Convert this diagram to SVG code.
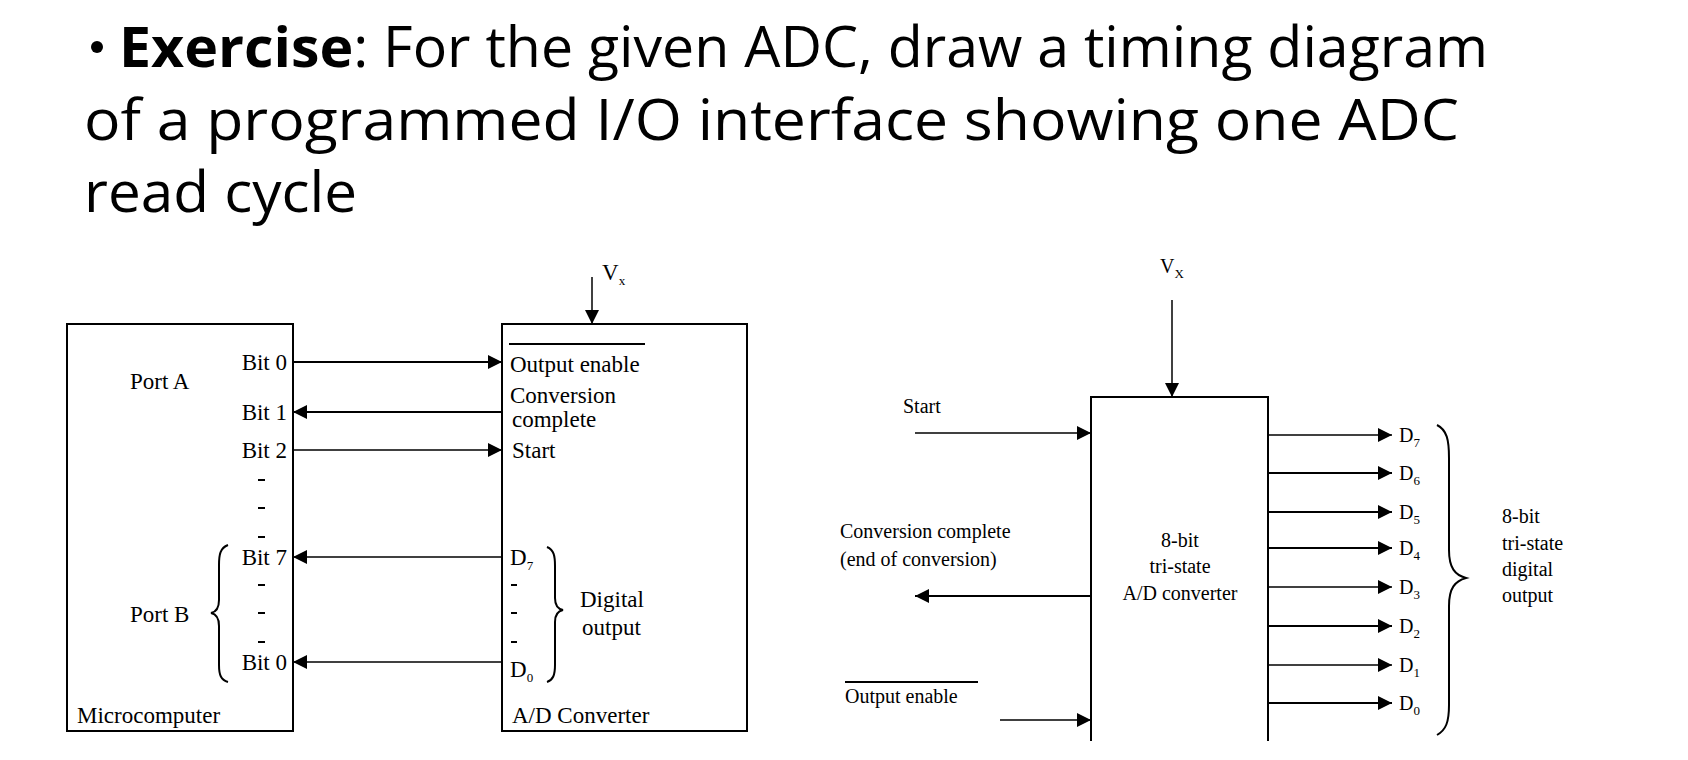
<svg xmlns="http://www.w3.org/2000/svg" width="1688" height="760" viewBox="0 0 1688 760">
<defs>
<marker id="ah" viewBox="0 0 10 10" refX="10" refY="5" markerWidth="10" markerHeight="10" markerUnits="userSpaceOnUse" orient="auto"><path d="M0,0 L10,5 L0,10 z" fill="#000"/></marker>
<marker id="ahb" viewBox="0 0 10 10" refX="10" refY="5" markerWidth="14" markerHeight="14" markerUnits="userSpaceOnUse" orient="auto"><path d="M0,0 L10,5 L0,10 z" fill="#000"/></marker>
</defs>
<style>
.t{font-family:"Liberation Serif","DejaVu Serif",serif;font-size:23px;fill:#000}
.s{font-family:"Liberation Serif","DejaVu Serif",serif;font-size:20px;fill:#000}
.sub{font-size:13px}
.h{font-family:"Open Sans","Liberation Sans",sans-serif;font-size:56px;fill:#000}
.b{fill:none;stroke:#000;stroke-width:2}
.c{fill:none;stroke:#000;stroke-width:2;marker-end:url(#ahb)}
.c1{fill:none;stroke:#000;stroke-width:1.5;marker-end:url(#ahb)}
</style>
<rect width="1688" height="760" fill="#fff"/>
<g id="title">
<circle cx="97" cy="47" r="6" fill="#000"/>
<text class="h" x="119" y="67" textLength="1369" lengthAdjust="spacingAndGlyphs"><tspan font-weight="bold">Exercise</tspan>: For the given ADC, draw a timing diagram</text>
<text class="h" x="84" y="140" textLength="1375" lengthAdjust="spacingAndGlyphs">of a programmed I/O interface showing one ADC</text>
<text class="h" x="84" y="212" textLength="273" lengthAdjust="spacingAndGlyphs">read cycle</text>
</g>
<g id="microcomputer">
<rect class="b" x="67" y="324" width="226" height="407"/>
<text class="t" x="130" y="389">Port A</text>
<text class="t" x="130" y="622">Port B</text>
<text class="t" x="77" y="723">Microcomputer</text>
<g text-anchor="end">
<text class="t" x="287" y="370">Bit 0</text>
<text class="t" x="287" y="420">Bit 1</text>
<text class="t" x="287" y="458">Bit 2</text>
<text class="t" x="287" y="565">Bit 7</text>
<text class="t" x="287" y="670">Bit 0</text>
</g>
<g stroke="#000" stroke-width="2">
<path d="M258 480h7M258 508h7M258 537h7M258 585h7M258 613h7M258 642h7"/>
</g>
<path class="b" stroke-width="1.5" d="M228 545 C220 548 219 555 219 565 L219 600 C219 608 216 612 211 613 C216 614 219 618 219 626 L219 665 C219 675 221 680 228 682"/>
</g>
<g id="adc">
<rect class="b" x="502" y="324" width="245" height="407"/>
<line x1="509" y1="344" x2="645" y2="344" stroke="#000" stroke-width="2"/>
<text class="t" x="510" y="372">Output enable</text>
<text class="t" x="510" y="403">Conversion</text>
<text class="t" x="512" y="427">complete</text>
<text class="t" x="512" y="458">Start</text>
<text class="t" x="510" y="565">D<tspan class="sub" dy="5">7</tspan></text>
<text class="t" x="510" y="677">D<tspan class="sub" dy="5">0</tspan></text>
<path d="M511 585h6M511 613h6M511 642h6" stroke="#000" stroke-width="2"/>
<path class="b" stroke-width="1.5" d="M547 547 C554 550 555 556 555 566 L555 598 C555 606 558 609 563 610 C558 611 555 614 555 622 L555 665 C555 675 553 680 547 682"/>
<text class="t" x="580" y="607">Digital</text>
<text class="t" x="582" y="635">output</text>
<text class="t" x="512" y="723">A/D Converter</text>
<text class="t" x="602" y="280">V<tspan class="sub" dy="5">x</tspan></text>
</g>
<g id="adc2">
<path class="b" d="M1091 741V397H1268V741"/>
<g text-anchor="middle">
<text class="s" x="1180" y="547">8-bit</text>
<text class="s" x="1180" y="573">tri-state</text>
<text class="s" x="1180" y="600">A/D converter</text>
<text class="s" x="1172" y="273">V<tspan class="sub" dy="5">X</tspan></text>
</g>
<text class="s" x="903" y="413">Start</text>
<text class="s" x="840" y="538">Conversion complete</text>
<text class="s" x="840" y="566">(end of conversion)</text>
<line x1="845" y1="682" x2="978" y2="682" stroke="#000" stroke-width="2"/>
<text class="s" x="845" y="703">Output enable</text>
<g>
<text class="s" x="1399" y="442">D<tspan class="sub" dy="5">7</tspan></text>
<text class="s" x="1399" y="480">D<tspan class="sub" dy="5">6</tspan></text>
<text class="s" x="1399" y="519">D<tspan class="sub" dy="5">5</tspan></text>
<text class="s" x="1399" y="555">D<tspan class="sub" dy="5">4</tspan></text>
<text class="s" x="1399" y="594">D<tspan class="sub" dy="5">3</tspan></text>
<text class="s" x="1399" y="633">D<tspan class="sub" dy="5">2</tspan></text>
<text class="s" x="1399" y="672">D<tspan class="sub" dy="5">1</tspan></text>
<text class="s" x="1399" y="710">D<tspan class="sub" dy="5">0</tspan></text>
</g>
<path class="b" stroke-width="1.5" d="M1437 425 C1447 430 1449 440 1449 458 L1449 550 C1449 568 1455 575 1466 578 C1455 581 1449 588 1449 606 L1449 705 C1449 722 1446 730 1437 735"/>
<text class="s" x="1502" y="523">8-bit</text>
<text class="s" x="1502" y="550">tri-state</text>
<text class="s" x="1502" y="576">digital</text>
<text class="s" x="1502" y="602">output</text>
</g>
<g id="connectors">
<line class="c" x1="293" y1="362" x2="502" y2="362"/>
<line class="c" x1="502" y1="412" x2="293" y2="412"/>
<line class="c1" x1="293" y1="450" x2="502" y2="450"/>
<line class="c1" x1="502" y1="557" x2="293" y2="557"/>
<line class="c1" x1="502" y1="662" x2="293" y2="662"/>
<line class="c1" x1="592" y1="277" x2="592" y2="324"/>
<line class="c1" x1="1172" y1="300" x2="1172" y2="397"/>
<line class="c1" x1="915" y1="433" x2="1091" y2="433"/>
<line class="c" x1="1091" y1="596" x2="915" y2="596"/>
<line class="c1" x1="1000" y1="720" x2="1091" y2="720"/>
<g>
<line class="c1" x1="1268" y1="435" x2="1392" y2="435"/>
<line class="c" x1="1268" y1="473" x2="1392" y2="473"/>
<line class="c" x1="1268" y1="512" x2="1392" y2="512"/>
<line class="c" x1="1268" y1="548" x2="1392" y2="548"/>
<line class="c1" x1="1268" y1="587" x2="1392" y2="587"/>
<line class="c" x1="1268" y1="626" x2="1392" y2="626"/>
<line class="c1" x1="1268" y1="665" x2="1392" y2="665"/>
<line class="c" x1="1268" y1="703" x2="1392" y2="703"/>
</g>
</g>
</svg>
